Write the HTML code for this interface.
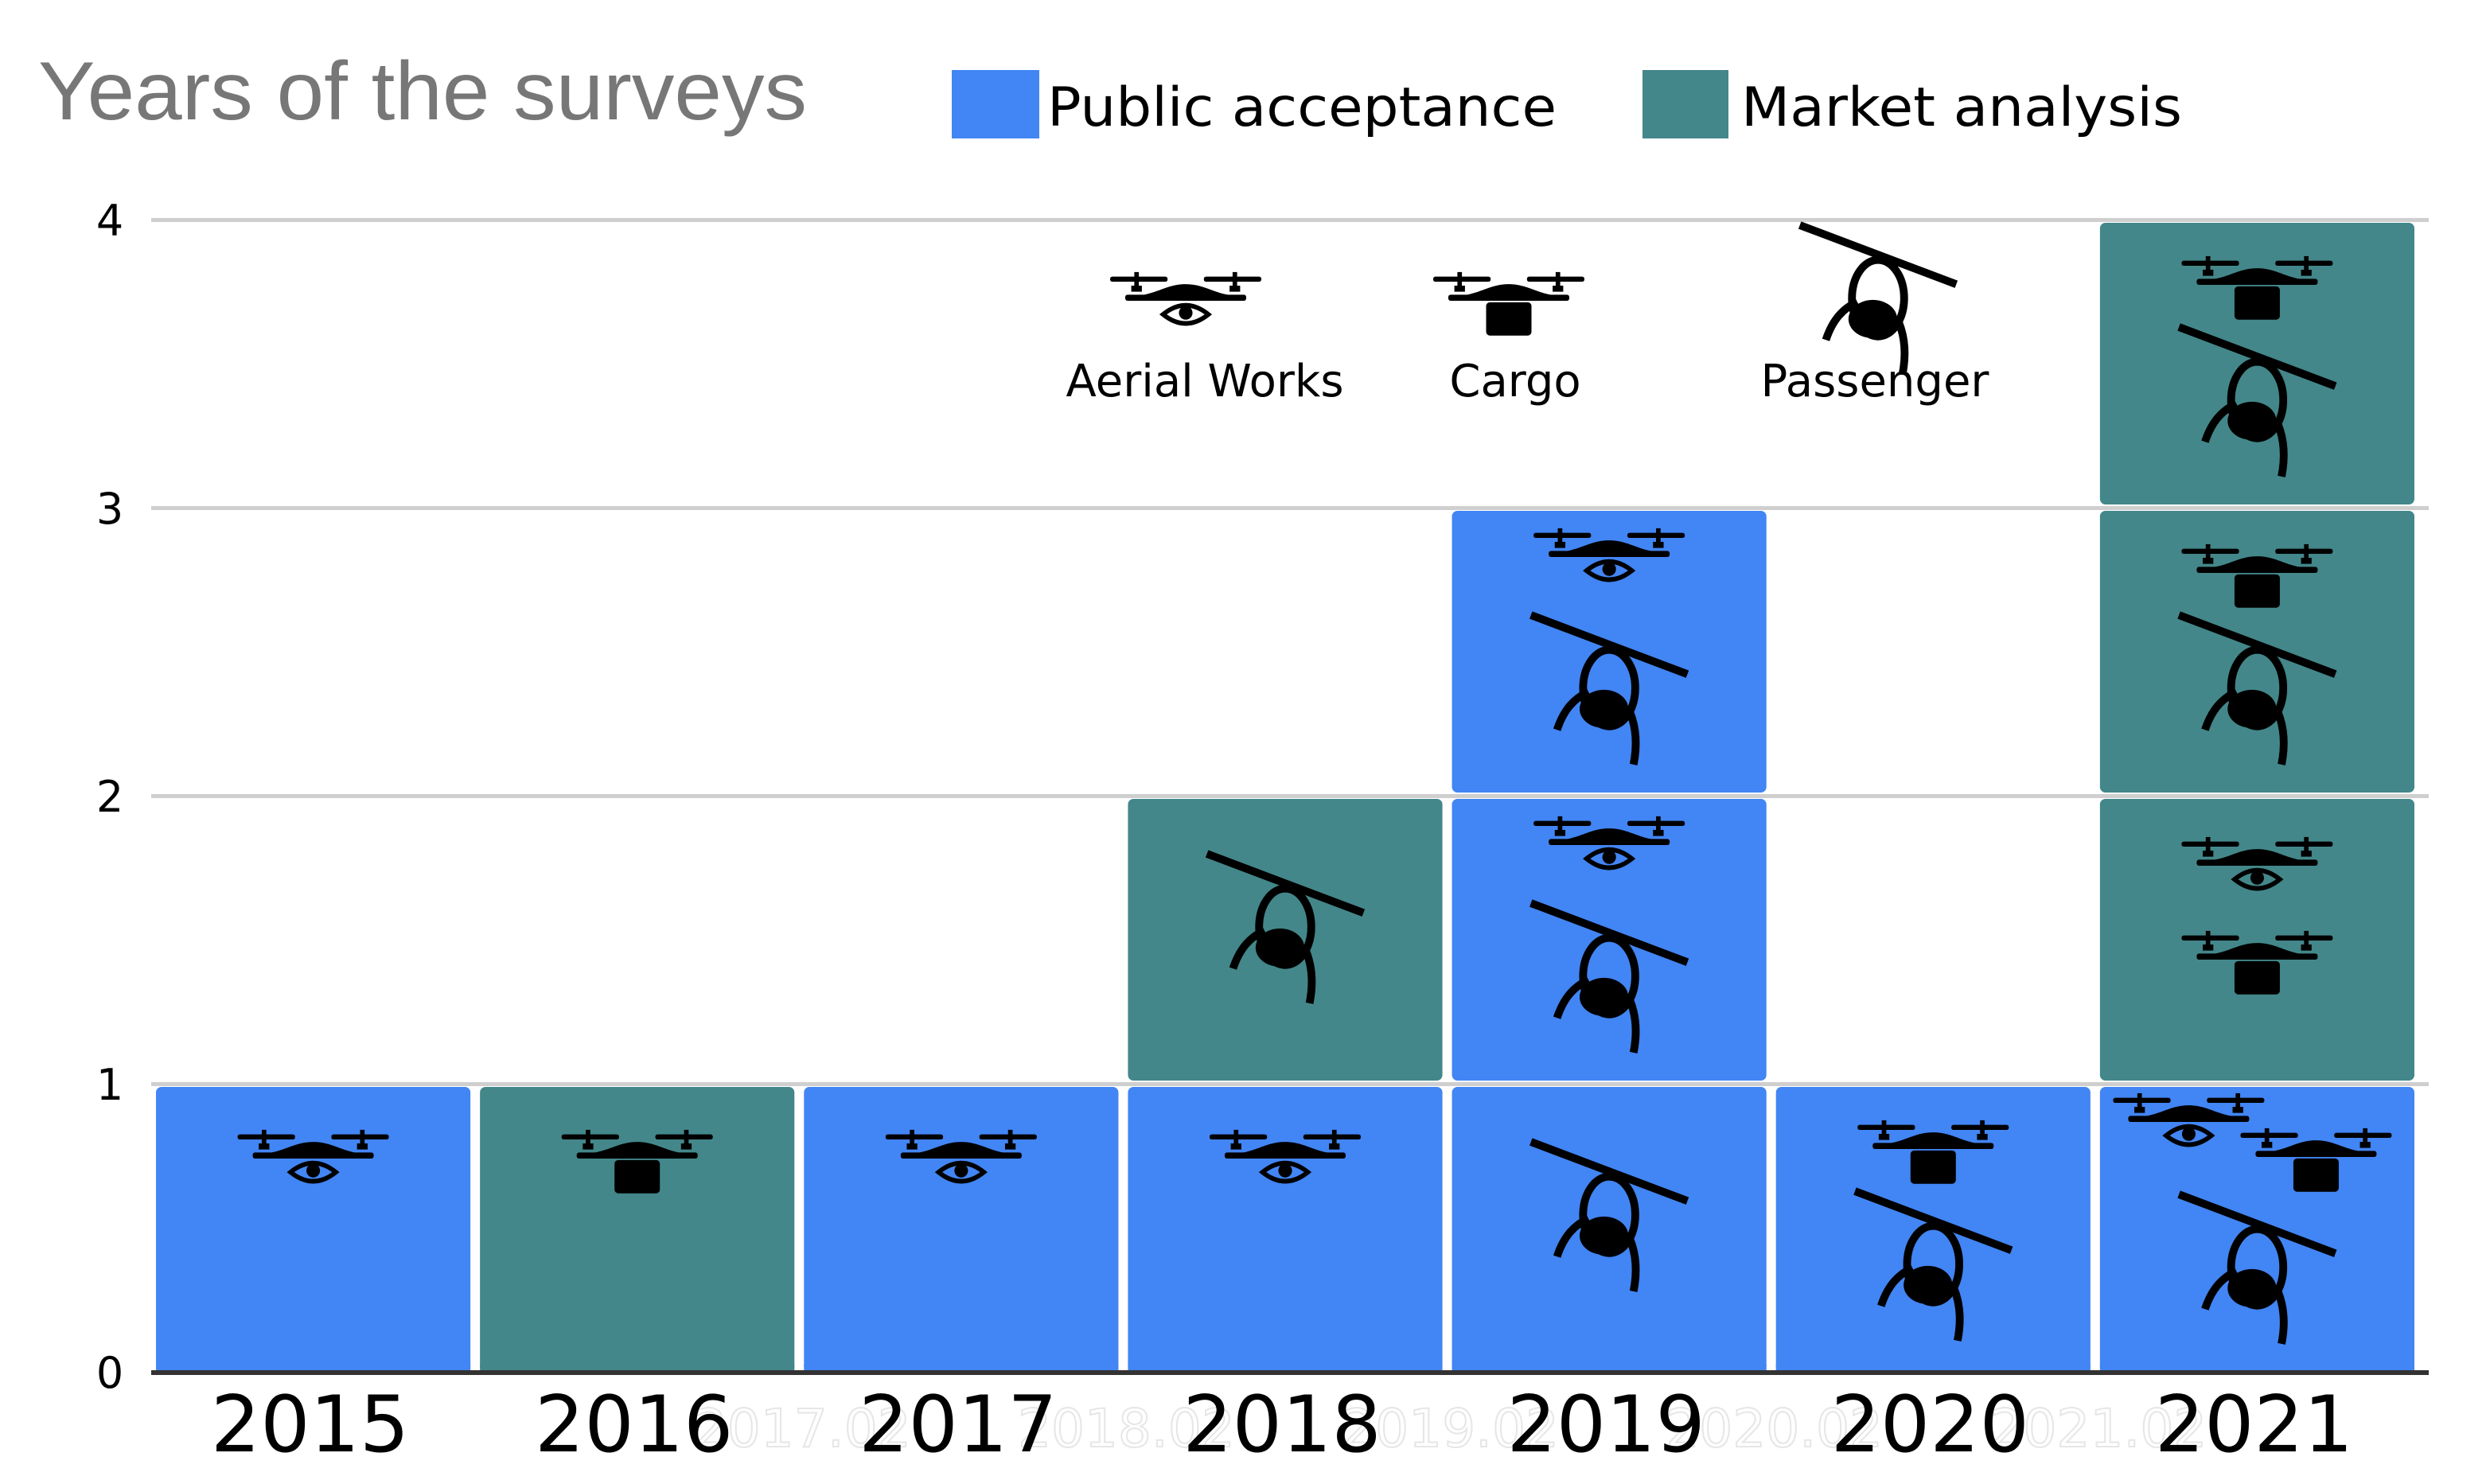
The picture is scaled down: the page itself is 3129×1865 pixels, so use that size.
<!DOCTYPE html>
<html><head><meta charset="utf-8">
<style>
html,body{margin:0;padding:0;background:#fff;}
svg{display:block;}
</style></head>
<body>
<svg id="chart" width="3129" height="1865" viewBox="0 0 3129 1865" xmlns="http://www.w3.org/2000/svg">
<defs>
<symbol id="drone-base" overflow="visible">
  <rect x="-50" y="-16" width="38" height="3.4" rx="1.5" fill="#000"/>
  <rect x="12" y="-16" width="38" height="3.4" rx="1.5" fill="#000"/>
  <rect x="-34" y="-19" width="3" height="12" fill="#000"/>
  <rect x="31" y="-19" width="3" height="12" fill="#000"/>
  <rect x="-36" y="-10" width="7" height="4" fill="#000"/>
  <rect x="29" y="-10" width="7" height="4" fill="#000"/>
  <path d="M-38,-3 C-20,-3 -14,-11 0,-11 C14,-11 20,-3 38,-3 Z" fill="#000"/>
  <rect x="-40" y="-4" width="80" height="4" rx="1.5" fill="#000"/>
</symbol>
<symbol id="icon-aerial" overflow="visible">
  <use href="#drone-base"/>
  <path d="M-15,9 Q0,-3 15,9 Q0,21 -15,9 Z" fill="none" stroke="#000" stroke-width="3"/>
  <circle cx="0" cy="8" r="4.5" fill="#000"/>
</symbol>
<symbol id="icon-cargo" overflow="visible">
  <use href="#drone-base"/>
  <rect x="-15" y="1" width="30" height="22" rx="2.5" fill="#000"/>
</symbol>
<symbol id="icon-passenger" overflow="visible">
  <g transform="scale(1.15)">
  <line x1="-45" y1="-38" x2="45" y2="-4" stroke="#000" stroke-width="4.5"/>
  <ellipse cx="0" cy="4" rx="15" ry="22" fill="none" stroke="#000" stroke-width="4.5"/>
  <ellipse cx="-3" cy="16" rx="14" ry="11" fill="#000"/>
  <path d="M-30,28 C-26,16 -20,10 -12,6" fill="none" stroke="#000" stroke-width="4.5"/>
  <path d="M12,18 C16,28 16,38 14,48" fill="none" stroke="#000" stroke-width="4.5"/>
  </g>
</symbol>
</defs>
<g id="layer"></g>
</svg>
<script>
const years = ["2015","2016","2017","2018","2019","2020","2021"];
const faintLabels = ["2017.02","2018.02","2019.02","2020.02","2021.02"];
const yTicks = [0,1,2,3,4];
// each segment is one survey (value 1); series and icons per segment
const segSeries = [
  ["pa"],
  ["ma"],
  ["pa"],
  ["pa","ma"],
  ["pa","pa","pa"],
  ["pa"],
  ["pa","ma","ma","ma"]
];
const segIcons = [
  [["aerial"]],
  [["cargo"]],
  [["aerial"]],
  [["aerial"],["passenger"]],
  [["passenger"],["aerial","passenger"],["aerial","passenger"]],
  [["cargo","passenger"]],
  [["aerial","cargo","passenger"],["aerial","cargo"],["cargo","passenger"],["cargo","passenger"]]
];

const NS="http://www.w3.org/2000/svg";
const g=document.getElementById('layer');
const X0=196, X1=3046, Y0=1724, UNIT=362;
const band=(X1-X0)/years.length, barW=band-12;
const yS=v=>Y0-v*UNIT;
const xS=i=>X0+i*band;
const colors={pa:"#4285f4",ma:"#43878a"};
function mk(tag,attrs,parent){const e=document.createElementNS(NS,tag);for(const k in attrs)e.setAttribute(k,attrs[k]);(parent||g).appendChild(e);return e;}
const S=1.9;
function icon(type,cx,cy,name){
  const u=mk('use',{href:'#icon-'+type,transform:`translate(${cx},${cy}) scale(${S})`});
  
  
}

// title
let t=mk('text',{x:48,y:150,'font-family':'Liberation Sans, sans-serif','font-size':104,fill:'#777',textLength:966,lengthAdjust:'spacingAndGlyphs'});
t.textContent="Years of the surveys";


// legend
let r=mk('rect',{x:1196,y:88,width:110,height:86,fill:colors.pa});


t=mk('text',{x:1316,y:158,'font-family':'DejaVu Sans, sans-serif','font-size':68,fill:'#000',textLength:640,lengthAdjust:'spacingAndGlyphs'});
t.textContent="Public acceptance";


r=mk('rect',{x:2064,y:88,width:108,height:86,fill:colors.ma});


t=mk('text',{x:2188,y:158,'font-family':'DejaVu Sans, sans-serif','font-size':68,fill:'#000',textLength:554,lengthAdjust:'spacingAndGlyphs'});
t.textContent="Market analysis";



// bars
years.forEach((yr,i)=>{
  const cx=xS(i)+barW/2;
  segSeries[i].forEach((s,j)=>{
    const top=yS(j+1)+4, bot=j===0?Y0:yS(j)-4;
    const rect=mk('rect',{x:xS(i),y:top,width:barW,height:bot-top,rx:7,fill:colors[s]});
    
    
    if(j===0) mk('rect',{x:xS(i),y:bot-10,width:barW,height:10,fill:colors[s]});
    const ic=segIcons[i][j];
    const bt=yS(j+1);
    if(ic.length===1){
      const dy=ic[0]==='passenger'?156:94;
      icon(ic[0],cx,bt+dy,'icon-'+ic[0]+'-'+yr);
    }else if(ic.length===2){
      icon(ic[0],cx,bt+(ic[0]==='cargo'?82:88)-(ic[1]==='passenger'&&ic[0]==='aerial'?26:0),'icon-'+ic[0]+'-'+yr);
      icon(ic[1],cx,bt+(ic[1]==='passenger'?218:206),'icon-'+ic[1]+'-'+yr);
    }else{
      icon(ic[0],cx-86,bt+48,'icon-'+ic[0]+'-'+yr);
      icon(ic[1],cx+74,bt+92,'icon-'+ic[1]+'-'+yr);
      icon(ic[2],cx,bt+222,'icon-'+ic[2]+'-'+yr);
    }
  });
});

// gridlines and y ticks
yTicks.forEach(v=>{
  if(v>0){
    const l=mk('rect',{x:190,y:yS(v)-2,width:2862,height:5,fill:'#cfcfcf'});
    
    
  }
  const tt=mk('text',{x:138,y:yS(v)+20,'text-anchor':'middle','font-family':'DejaVu Sans, sans-serif','font-size':54,fill:'#000'});
  tt.textContent=String(v);
  
  
});
const ax=mk('rect',{x:190,y:Y0-2,width:2862,height:6,fill:'#333'});



// faint labels
faintLabels.forEach((lb,k)=>{
  const ft=mk('text',{x:xS(k+2)-2,y:1818,'text-anchor':'middle','font-family':'DejaVu Sans, sans-serif','font-size':66,fill:'#fff',stroke:'#e6e6e6','stroke-width':2});
  ft.textContent=lb;
  
  
});
// year labels
years.forEach((yr,i)=>{
  const yt=mk('text',{x:xS(i)+barW/2-4,y:1824,'text-anchor':'middle','font-family':'DejaVu Sans, sans-serif','font-size':98,fill:'#000'});
  yt.textContent=yr;
  
  
});

// category key
const keyIcons=["aerial","cargo","passenger"];
const keyLabels=["Aerial Works","Cargo","Passenger"];
const keyX=[1490,1896,2360];
const keyLX=[1514,1904,2356];
keyIcons.forEach((k,i)=>{
  icon(k,keyX[i],k==='passenger'?366:378,'key-icon-'+k);
  const kt=mk('text',{x:keyLX[i],y:498,'text-anchor':'middle','font-family':'DejaVu Sans, sans-serif','font-size':56,fill:'#000'});
  kt.textContent=keyLabels[i];
  
  
});
</script>
</body></html>
